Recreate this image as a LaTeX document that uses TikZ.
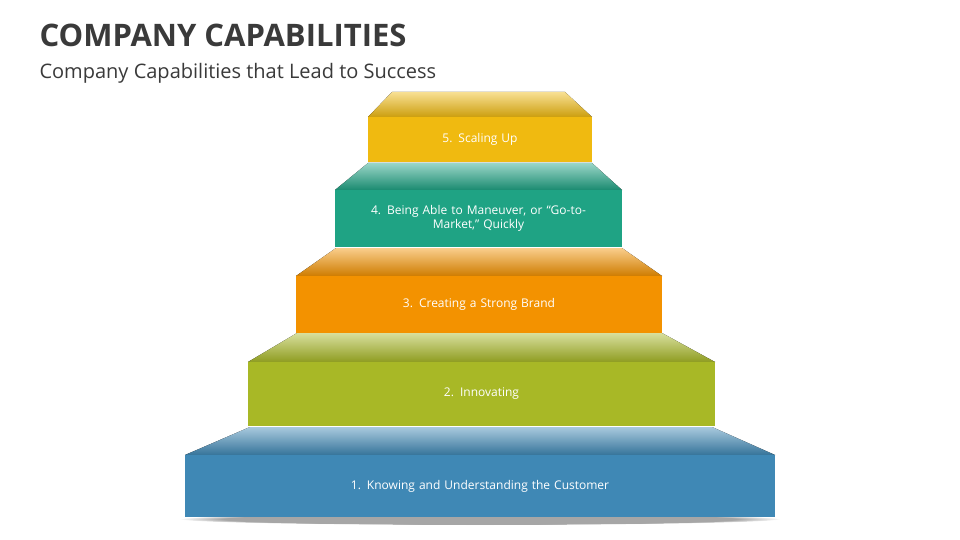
\documentclass[tikz,border=0pt]{standalone}
\usepackage{fontspec}
\setmainfont{Open Sans}
\usetikzlibrary{fadings}
\definecolor{cB}{HTML}{3F88B5}
\definecolor{cG}{HTML}{A8B826}
\definecolor{cO}{HTML}{F39200}
\definecolor{cT}{HTML}{1FA384}
\definecolor{cY}{HTML}{F0BA10}
\definecolor{ttl}{HTML}{3A3A3A}
\tikzset{lbl/.style={text=white,font=\fontsize{12}{14}\selectfont,align=center,text width=#1}}
\newcommand{\stepdraw}[9]{% name, color, x1,x2, ytop, yfront, ybottom, tx1, tx2
  \fill[top color=#2!45!white, bottom color=#2!85!black] (#8,#5) -- (#9,#5) -- (#4,#6) -- (#3,#6) -- cycle;
  \fill[#2] (#3,#6) rectangle (#4,#7);
  \coordinate (#1) at ({(#3+#4)/2},{(#6+#7)/2});
}
\begin{document}
\begin{tikzpicture}[x=1pt,y=-1pt]
\useasboundingbox (0,0) rectangle (960,540);
\fill[white] (0,0) rectangle (960,540);
\fill[black!35, path fading=circle with fuzzy edge 15 percent] (480,519) ellipse (300 and 6);
\stepdraw{s1}{cB}{185}{775}{427}{455}{517}{250}{712}
\stepdraw{s2}{cG}{248}{715}{333}{362}{426}{297}{662}
\stepdraw{s3}{cO}{296}{662}{248}{276}{333}{336}{622}
\stepdraw{s4}{cT}{335}{622}{163}{190}{247}{368}{592}
\stepdraw{s5}{cY}{368}{592}{92}{117}{162}{392}{565}
\node[lbl=500pt] (t1) at (s1) {1. Knowing and Understanding the Customer};
\node[lbl=400pt] (t2) at (s2) {2. Innovating};
\node[lbl=300pt] (t3) at (s3) {3. Creating a Strong Brand};
\node[lbl=260pt] (t4) at (s4) {4. Being Able to Maneuver, or “Go-to-\\Market,” Quickly};
\node[lbl=200pt] (t5) at (s5) {5. Scaling Up};
\node[anchor=west,text=ttl,font=\fontsize{31}{36}\selectfont\bfseries] (title) at (36,35) {COMPANY CAPABILITIES};
\node[anchor=west,text=ttl,font=\fontsize{20}{24}\selectfont] (sub) at (36,73) {Company Capabilities that Lead to Success};
\end{tikzpicture}
\end{document}
